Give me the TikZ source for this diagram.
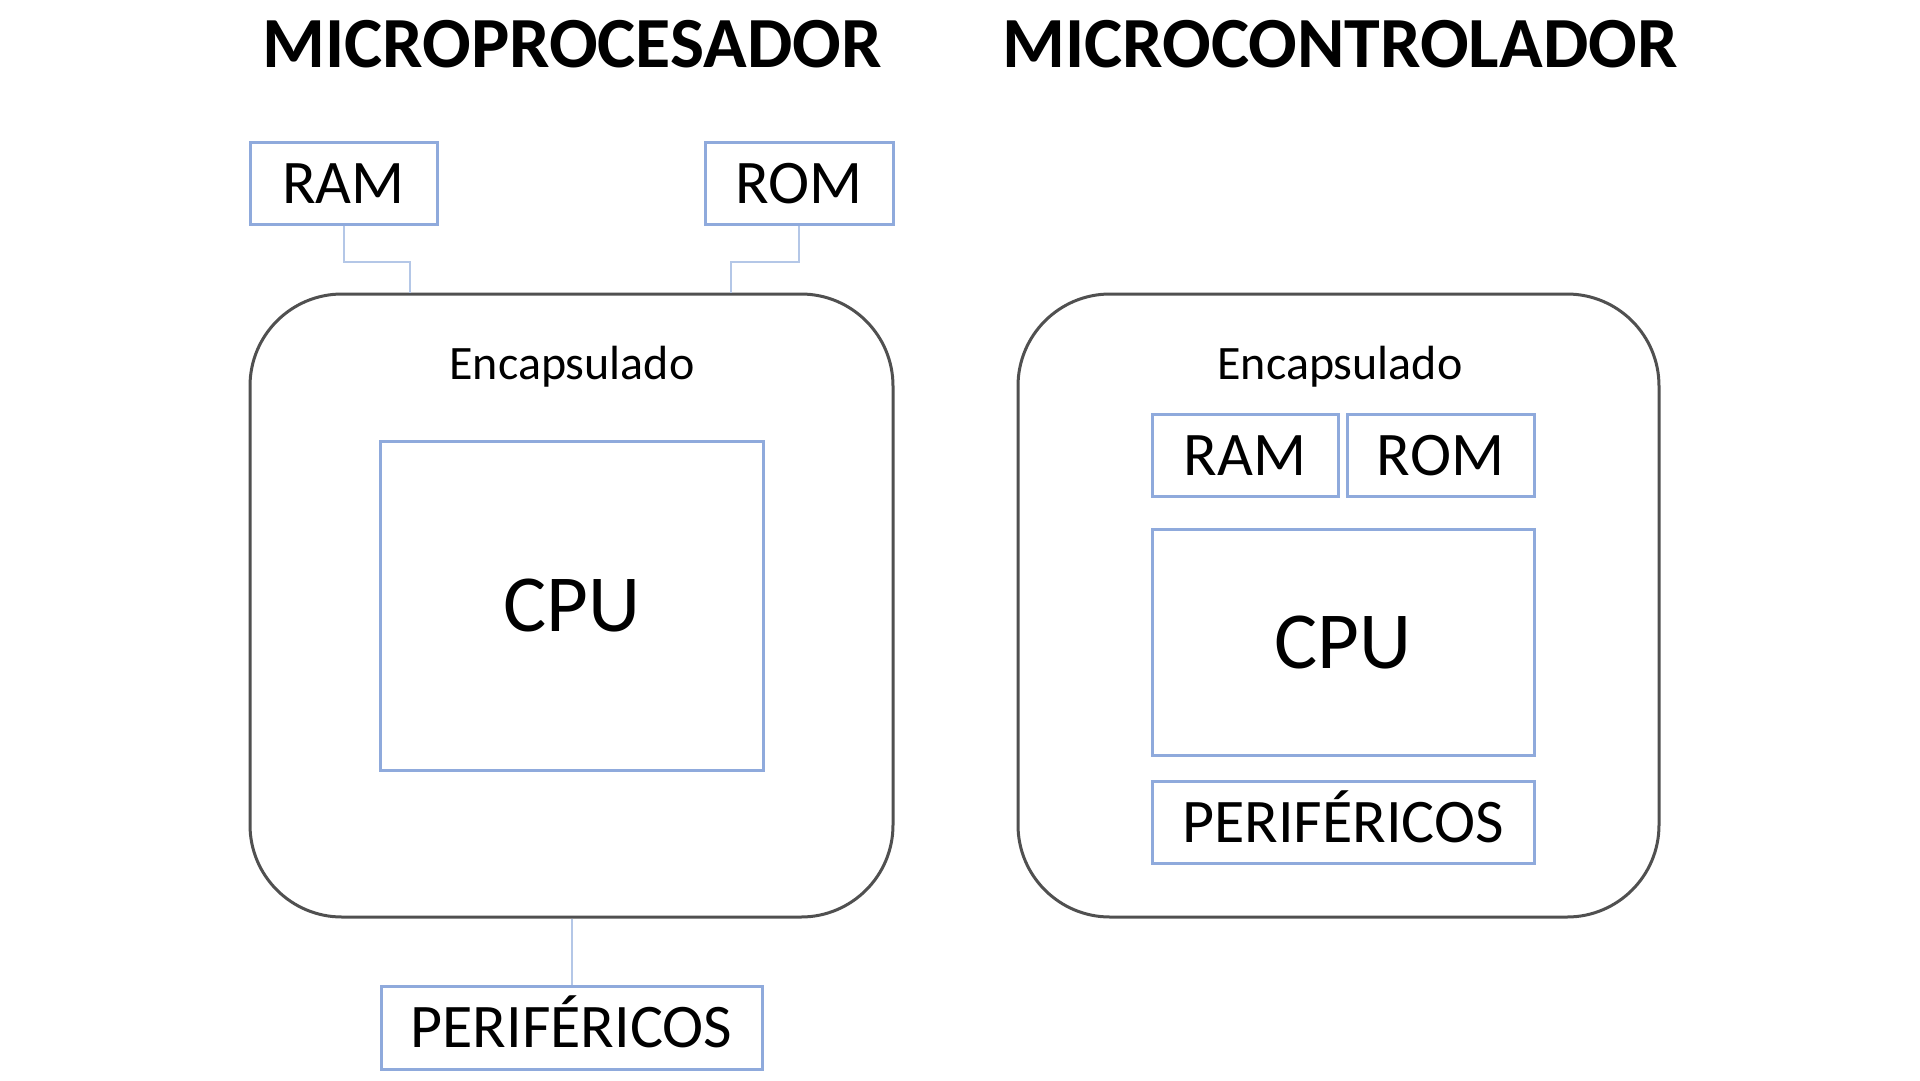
\documentclass[tikz,border=0pt]{standalone}
\usepackage{fontspec}
\setmainfont{Carlito}
\definecolor{boxblue}{RGB}{143,170,220}
\definecolor{connblue}{RGB}{180,199,231}
\definecolor{pkggray}{RGB}{80,80,80}
\begin{document}
\begin{tikzpicture}[x=1pt,y=-1pt,
  blk/.style={draw=boxblue, line width=3pt, inner sep=0pt, text height=40pt, text depth=0pt, font=\fontsize{62}{62}\selectfont},
  cpubox/.style={blk, text height=52pt, font=\fontsize{81}{81}\selectfont},
  pkg/.style={draw=pkggray, line width=3pt, rounded corners=92pt, inner sep=0pt},
  conn/.style={draw=connblue, line width=2pt},
  ttl/.style={font=\fontsize{72}{72}\selectfont\bfseries, anchor=base},
  enc/.style={font=\fontsize{48}{48}\selectfont, anchor=base}]
\fill[white] (0,0) rectangle (1920,1080);
\useasboundingbox (0,0) rectangle (1920,1080);
% titles
\node[ttl] (t1) at (572,67) {MICROPROCESADOR};
\node[ttl] (t2) at (1340,67) {MICROCONTROLADOR};
% left: microprocesador
\node[pkg, minimum width=643pt, minimum height=623pt] (pkgL) at (571.5,605.5) {};
\node[enc] (encL) at (572,379) {Encapsulado};
\node[cpubox, minimum width=383pt, minimum height=329pt] (cpuL) at (571.5,605.5) {CPU};
\node[blk, minimum width=187pt, minimum height=82pt] (ramL) at (343.5,183) {RAM};
\node[blk, minimum width=188pt, minimum height=82pt] (romL) at (799,183) {ROM};
\node[blk, minimum width=381pt, minimum height=83pt] (perL) at (571.5,1027.5) {PERIFÉRICOS};
\coordinate (ramJ) at (410,0);
\coordinate (romJ) at (731,0);
\draw[conn] (ramL.south) -- ++(0,36) -| (ramJ |- pkgL.north);
\draw[conn] (romL.south) -- ++(0,36) -| (romJ |- pkgL.north);
\draw[conn] (pkgL.south) -- (perL.north);
% right: microcontrolador
\node[pkg, minimum width=641pt, minimum height=623pt] (pkgR) at (1338.5,605.5) {};
\node[enc] (encR) at (1340,379) {Encapsulado};
\node[blk, minimum width=186pt, minimum height=82pt] (ramR) at (1245,455) {RAM};
\node[blk, minimum width=187pt, minimum height=82pt] (romR) at (1440.5,455) {ROM};
\node[cpubox, minimum width=382pt, minimum height=226pt] (cpuR) at (1343,642) {CPU};
\node[blk, minimum width=382pt, minimum height=82pt] (perR) at (1343,822) {PERIFÉRICOS};
\end{tikzpicture}
\end{document}
